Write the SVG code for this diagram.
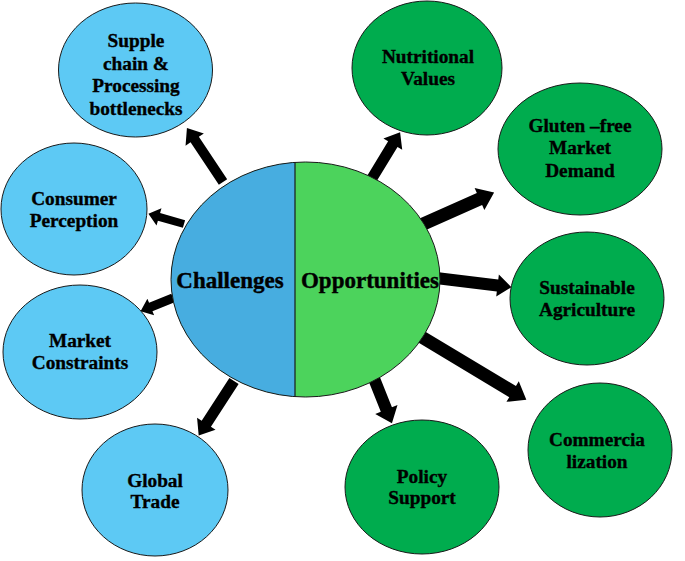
<svg xmlns="http://www.w3.org/2000/svg" width="685" height="561" viewBox="0 0 685 561">
<style>
  .sat-b { fill: #5DC9F4; stroke: #1a1a1a; stroke-width: 1; }
  .sat-g { fill: #00AC4E; stroke: #1a1a1a; stroke-width: 1; }
  .lbl { font-family: "Liberation Serif", "Times New Roman", serif; font-weight: bold; font-size: 19.3px; fill: #000; stroke: #000; stroke-width: 0.35; text-anchor: middle; }
  .big { font-family: "Liberation Serif", "Times New Roman", serif; font-weight: bold; font-size: 23px; fill: #000; stroke: #000; stroke-width: 0.4; text-anchor: middle; }
  .arr { fill: #000; }
</style>
<defs>
  <clipPath id="leftHalf"><rect x="0" y="0" width="295" height="561"/></clipPath>
</defs>
<rect width="685" height="561" fill="#fff"/>

<g id="connectors">
  <path class="arr" transform="translate(223,182) rotate(-123.7)" d="M0,-5 L51,-5 L51,-11 L65,0 L51,11 L51,5 L0,5 Z"/>
  <path class="arr" transform="translate(184,224) rotate(-164.05)" d="M0,-4 L26,-4 L26,-9 L37,0 L26,9 L26,4 L0,4 Z"/>
  <path class="arr" transform="translate(173,298) rotate(157.9)" d="M0,-4.5 L24,-4.5 L24,-9 L35,0 L24,9 L24,4.5 L0,4.5 Z"/>
  <path class="arr" transform="translate(234,381) rotate(122.9)" d="M0,-5.5 L51,-5.5 L51,-11 L65,0 L51,11 L51,5.5 L0,5.5 Z"/>
  <path class="arr" transform="translate(371,180) rotate(-58.7)" d="M0,-5.5 L42,-5.5 L42,-11 L56,0 L42,11 L42,5.5 L0,5.5 Z"/>
  <path class="arr" transform="translate(421,225) rotate(-23.96)" d="M0,-6.5 L64,-6.5 L64,-12 L80,0 L64,12 L64,6.5 L0,6.5 Z"/>
  <path class="arr" transform="translate(436,278) rotate(6.93)" d="M0,-6 L62,-6 L62,-11 L76,0 L62,11 L62,6 L0,6 Z"/>
  <path class="arr" transform="translate(420,336) rotate(30.96)" d="M0,-6.5 L108,-6.5 L108,-12 L124,0 L108,12 L108,6.5 L0,6.5 Z"/>
  <path class="arr" transform="translate(373,376) rotate(68.2)" d="M0,-6 L36,-6 L36,-12 L51,0 L36,12 L36,6 L0,6 Z"/>
</g>

<g id="center">
  <ellipse cx="305.5" cy="279.5" rx="134.5" ry="117.5" fill="#4CD35C"/>
  <ellipse cx="305.5" cy="279.5" rx="134.5" ry="117.5" fill="#47ADE0" clip-path="url(#leftHalf)"/>
  <ellipse cx="305.5" cy="279.5" rx="134.5" ry="117.5" fill="none" stroke="#1a1a1a" stroke-width="1"/>
  <line x1="295" y1="162.4" x2="295" y2="396.6" stroke="#1a1a1a" stroke-width="1.2"/>
  <text class="big" x="230" y="288">Challenges</text>
  <text class="big" x="370" y="288">Opportunities</text>
</g>

<g id="supply-chain">
  <ellipse class="sat-b" cx="135.5" cy="70" rx="77" ry="67"/>
  <text class="lbl" x="136" y="47">Supple</text>
  <text class="lbl" x="136" y="70">chain &amp;</text>
  <text class="lbl" x="136" y="92">Processing</text>
  <text class="lbl" x="136" y="115">bottlenecks</text>
</g>

<g id="consumer-perception">
  <ellipse class="sat-b" cx="74" cy="209" rx="73" ry="66"/>
  <text class="lbl" x="74" y="205">Consumer</text>
  <text class="lbl" x="74" y="227">Perception</text>
</g>

<g id="market-constraints">
  <ellipse class="sat-b" cx="80" cy="352" rx="77" ry="67"/>
  <text class="lbl" x="80" y="347">Market</text>
  <text class="lbl" x="80" y="369">Constraints</text>
</g>

<g id="global-trade">
  <ellipse class="sat-b" cx="155" cy="490" rx="73" ry="66"/>
  <text class="lbl" x="155" y="487">Global</text>
  <text class="lbl" x="155" y="508">Trade</text>
</g>

<g id="nutritional-values">
  <ellipse class="sat-g" cx="427" cy="68" rx="75" ry="67"/>
  <text class="lbl" x="428" y="63">Nutritional</text>
  <text class="lbl" x="428" y="85">Values</text>
</g>

<g id="gluten-free">
  <ellipse class="sat-g" cx="580" cy="149" rx="82" ry="66"/>
  <text class="lbl" x="580" y="132">Gluten –free</text>
  <text class="lbl" x="580" y="154">Market</text>
  <text class="lbl" x="580" y="177">Demand</text>
</g>

<g id="sustainable-agriculture">
  <ellipse class="sat-g" cx="587" cy="298.5" rx="77" ry="66.5"/>
  <text class="lbl" x="587" y="294">Sustainable</text>
  <text class="lbl" x="587" y="316">Agriculture</text>
</g>

<g id="commercialization">
  <ellipse class="sat-g" cx="600" cy="450" rx="72" ry="67"/>
  <text class="lbl" x="597" y="446">Commercia</text>
  <text class="lbl" x="597" y="468">lization</text>
</g>

<g id="policy-support">
  <ellipse class="sat-g" cx="422" cy="487" rx="77" ry="67"/>
  <text class="lbl" x="422" y="483">Policy</text>
  <text class="lbl" x="422" y="504">Support</text>
</g>
</svg>
